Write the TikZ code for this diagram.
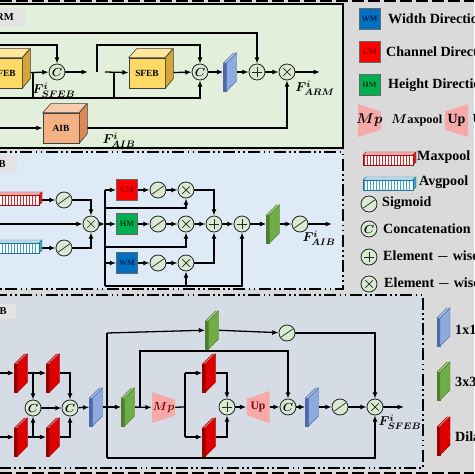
\documentclass[tikz,border=0pt]{standalone}
\usepackage{amsmath}
\usepackage{bm}
\usepackage{fontspec}
\setmainfont{Liberation Serif}
\usetikzlibrary{arrows.meta}

\definecolor{pagegray}{HTML}{DADADA}
\definecolor{armbg}{HTML}{E2EFDA}
\definecolor{aibbg}{HTML}{DEEBF7}
\definecolor{sfebbg}{HTML}{D6DCE5}
\definecolor{tabgray}{HTML}{E3E3E3}
\definecolor{opfill}{HTML}{D9EAD3}
\definecolor{wmblue}{HTML}{0070C0}
\definecolor{cmred}{HTML}{FF0000}
\definecolor{hmgreen}{HTML}{00B050}
\definecolor{wmtext}{HTML}{002060}
\definecolor{cmtext}{HTML}{8B0000}
\definecolor{hmtext}{HTML}{0B3D1B}
\definecolor{platebl}{HTML}{8FAADC}
\definecolor{platebld}{HTML}{4A6AA8}
\definecolor{plategr}{HTML}{70AD47}
\definecolor{plategrd}{HTML}{4E7F2E}
\definecolor{platerd}{HTML}{E00000}
\definecolor{platerdd}{HTML}{9A0000}
\definecolor{sfebfront}{HTML}{FFD966}
\definecolor{sfebtop}{HTML}{FFE699}
\definecolor{sfebside}{HTML}{D4A537}
\definecolor{aibfront}{HTML}{F4B183}
\definecolor{aibtop}{HTML}{F8CBAD}
\definecolor{aibside}{HTML}{D98A58}
\definecolor{trapfill}{HTML}{F6A9A9}
\definecolor{darkred}{HTML}{7B0C0C}
\definecolor{stripered}{HTML}{E02020}
\definecolor{stripeblue}{HTML}{3BA3D0}

\pgfdeclarelayer{back}
\pgfdeclarelayer{wires}
\pgfsetlayers{back,wires,main}

\newcommand{\plate}[4]{%
  \node at (#2) [inner sep=0pt,minimum width=3.9mm,minimum height=11.4mm] (#1) {};
  \begin{scope}[shift={(#2)},line width=0.4pt]
    \filldraw[draw=#4,fill=#4] (-6.5,-9) -- (-3.5,-9) -- (-3.5,19) -- (-6.5,19) -- cycle;
    \filldraw[draw=#4,fill=#3] (-3.5,-9) -- (6.5,-19) -- (6.5,9) -- (-3.5,19) -- cycle;
    \filldraw[draw=#4,fill=#3!60!white] (-6.5,-9) -- (3.5,-19) -- (6.5,-19) -- (-3.5,-9) -- cycle;
  \end{scope}}
\newcommand{\cube}[6]{%
  \node at (#2) [draw=black!75,fill=#3,line width=0.5pt,minimum width=10.8mm,minimum height=9mm,inner sep=0pt,font=\bfseries\fontsize{8}{9}\selectfont] (#1) {#6};
  \filldraw[draw=black!75,fill=#4,line width=0.5pt] (#1.north west) -- ++(8,-9) -- ++(36,0) -- (#1.north east) -- cycle;
  \filldraw[draw=black!75,fill=#5,line width=0.5pt] (#1.north east) -- ++(8,-9) -- ++(0,30) -- (#1.south east) -- cycle;}
\newcommand{\poolbar}[4]{%
  \node at (#2) [inner sep=0pt,minimum width=15mm,minimum height=3mm] (#1) {};
  \begin{scope}[shift={(#2)}]
    \fill[white] (-25,-5) rectangle (25,5);
    \foreach \s in {-23.5,-20.5,...,23.5} \draw[#3,line width=0.9pt] (\s,-5) -- (\s,5);
    \filldraw[draw=#3!70!black,fill=#4,line width=0.4pt] (-25,-5) -- (-22,-8) -- (28,-8) -- (25,-5) -- cycle;
    \filldraw[draw=#3!70!black,fill=#3,line width=0.4pt] (25,-5) -- (28,-8) -- (28,2) -- (25,5) -- cycle;
    \draw[#3!70!black,line width=0.4pt] (-25,-5) rectangle (25,5);
  \end{scope}}
\newcommand{\trap}[6]{%
  \begin{scope}[shift={(#2)}]
    \fill[trapfill] (-11.5,-#3) -- (11.5,-#4) -- (11.5,#4) -- (-11.5,#3) -- cycle;
  \end{scope}
  \node at (#2) [inner sep=0pt,minimum width=6.9mm,minimum height=9.3mm,text=#5] (#1) {#6};}

\begin{document}
\begin{tikzpicture}[x=0.3mm,y=-0.3mm]
\tikzstyle{op}=[circle,draw=black!85,fill=opfill,line width=0.7pt,minimum size=4.8mm,inner sep=0pt]
\tikzstyle{addop}=[op,path picture={\draw[line width=0.6pt] (path picture bounding box.center) +(-1.6mm,0) -- +(1.6mm,0) (path picture bounding box.center) +(0,-1.6mm) -- +(0,1.6mm);}]
\tikzstyle{mulop}=[op,path picture={\draw[line width=0.6pt] (path picture bounding box.center) +(-1.1mm,-1.1mm) -- +(1.1mm,1.1mm) (path picture bounding box.center) +(-1.1mm,1.1mm) -- +(1.1mm,-1.1mm);}]
\tikzstyle{sigop}=[op,path picture={\draw[line width=0.6pt] (path picture bounding box.center) +(-1.7mm,-1.2mm) -- +(1.7mm,1.2mm);}]
\tikzstyle{catop}=[op,font=\fontsize{10}{11}\selectfont]
\tikzstyle{dirbox}=[draw=black!60,line width=0.4pt,minimum size=6.4mm,inner sep=0pt,font=\bfseries\fontsize{7}{8}\selectfont]
\tikzstyle{leg}=[anchor=west,inner sep=0pt,font=\bfseries\fontsize{12}{14}\selectfont]
\tikzstyle{tab}=[anchor=east,inner sep=0pt,font=\bfseries\fontsize{9}{10}\selectfont]
\tikzstyle{flabel}=[inner sep=0pt,font=\fontsize{11}{13}\selectfont]
\tikzstyle{arr}=[-{Latex[length=1.9mm,width=1.5mm]},line width=1.1pt]
\tikzstyle{wire}=[line width=1.1pt]
\tikzstyle{dashdot}=[line width=1.2pt,dash pattern=on 3.6mm off 1mm on 0.5mm off 1mm on 0.5mm off 1mm]

\useasboundingbox (0,0) rectangle (474,474);

\begin{pgfonlayer}{back}
\fill[pagegray] (0,0) rectangle (474,474);
\fill[armbg] (-5,4) rectangle (343,148);
\draw[line width=1pt] (-5,4) rectangle (343,148);
\fill[aibbg] (-5,151) rectangle (343,289);
\draw[dashdot] (-5,152) -- (343,152) -- (343,289) -- (-5,289);
\fill[sfebbg] (-5,295) rectangle (423,468);
\draw[dashdot] (-5,295) -- (423,295) -- (423,468) -- (-5,468);
\draw[line width=2.2pt,dash pattern=on 3.6mm off 1.2mm] (0,1) -- (474,1);
\draw[line width=2.2pt,dash pattern=on 3.6mm off 1.2mm] (0,473) -- (474,473);
\fill[tabgray] (-5,8) rectangle (25,26);
\fill[tabgray] (-5,155) rectangle (17,173);
\fill[tabgray] (-5,304) rectangle (16,319);
\node at (14,17) [tab] (armtab) {ARM};
\node at (6,164) [tab] (aibtab) {AIB};
\node at (7,311.5) [tab] (sfebtab) {SFEB};
\end{pgfonlayer}

% ARM
\cube{sfebA}{4,73}{sfebfront}{sfebtop}{sfebside}{SFEB}
\cube{sfebB}{147,73}{sfebfront}{sfebtop}{sfebside}{SFEB}
\cube{aib}{61,128}{aibfront}{aibtop}{aibside}{AIB}

\node at (57,72) [catop] (c1) {$\bm{C}$};
\node at (200,72) [catop] (c2) {$\bm{C}$};
\plate{pa}{230,72}{platebl}{platebld}
\node at (257,72) [addop] (plusA) {};
\node at (287,72) [mulop] (mulA) {};

\coordinate (armtop) at (-5,33);
\coordinate (c1in) at (-5,45);
\coordinate (busin) at (-5,98);
\coordinate (ja) at (33,72);
\coordinate (c1out) at (88,72);
\coordinate (jc) at (97,72);
\coordinate (jd) at (97,45);
\coordinate (je) at (105,72);
\coordinate (jb) at (114,72);
\coordinate (aibin) at (-5,128);
\coordinate (armout) at (320,72);

\node at (54,90) [flabel] (lsfeb) {$\boldsymbol{F^{i}_{SFEB}}$};
\node at (315,88) [flabel] (larm) {$\boldsymbol{F^{i}_{ARM}}$};
\node at (119,140) [flabel] (laib) {$\boldsymbol{F^{i}_{AIB}}$};

% AIB
\poolbar{maxbar}{14,200}{stripered}{stripered!35!white}
\poolbar{avgbar}{14,248}{stripeblue}{stripeblue!35!white}
\node at (64,200) [sigop] (s1) {};
\node at (64,248) [sigop] (s2) {};
\node at (91,224) [mulop] (x0) {};

\node at (127,190) [dirbox,fill=cmred,text=cmtext] (cm) {CM};
\node at (127,224) [dirbox,fill=hmgreen,text=hmtext] (hm) {HM};
\node at (127,263) [dirbox,fill=wmblue,text=wmtext] (wm) {WM};
\node at (158,190) [sigop] (sc) {};
\node at (158,224) [sigop] (sh) {};
\node at (158,263) [sigop] (sw) {};
\node at (186,190) [mulop] (xc) {};
\node at (186,224) [mulop] (xh) {};
\node at (186,263) [mulop] (xw) {};
\node at (214,224) [addop] (p1) {};
\node at (242,224) [addop] (p2) {};
\plate{ga}{273,224}{plategr}{plategrd}
\node at (300,224) [sigop] (so) {};
\node at (319,238) [flabel] (laib2) {$\boldsymbol{F^{i}_{AIB}}$};

\coordinate (aibin2) at (-5,224);
\coordinate (tc) at (105,190);
\coordinate (th) at (105,224);
\coordinate (tw) at (105,263);
\coordinate (tf1) at (105,208);
\coordinate (tf2) at (105,247);
\coordinate (tb) at (105,286);
\coordinate (aibout) at (332,224);

% SFEB
\plate{r1}{21,373}{platerd}{platerdd}
\plate{r2}{53,373}{platerd}{platerdd}
\plate{r3}{21,437}{platerd}{platerdd}
\plate{r4}{53,437}{platerd}{platerdd}
\node at (33,408) [catop] (cc1) {$\bm{C}$};
\node at (70,408) [catop] (cc2) {$\bm{C}$};
\plate{b1}{96,407}{platebl}{platebld}
\plate{g1}{128,407}{plategr}{plategrd}
\plate{g2}{212,330}{plategr}{plategrd}
\trap{mp}{163.5,407.5}{15.5}{8}{darkred}{\fontsize{10}{12}\selectfont$\bm{Mp}$}
\plate{r5}{209,373}{platerd}{platerdd}
\plate{r6}{209,437}{platerd}{platerdd}
\node at (227,407) [addop] (ps) {};
\trap{up}{258,407}{8}{16}{darkred}{\bfseries\fontsize{10}{12}\selectfont Up}
\node at (288,407) [catop] (cc3) {$\bm{C}$};
\plate{b2}{312,407}{platebl}{platebld}
\node at (340,407) [sigop] (ss) {};
\node at (287,333) [sigop] (st) {};
\node at (375,407) [mulop] (xs) {};
\node at (400,422) [flabel] (lsfeb2) {$\boldsymbol{F^{i}_{SFEB}}$};

\coordinate (rin1) at (-5,373);
\coordinate (rin2) at (-5,437);
\coordinate (k1) at (33,373);
\coordinate (k2) at (33,437);
\coordinate (j1) at (107,407);
\coordinate (j1t) at (107,333);
\coordinate (j1b) at (107,458);
\coordinate (j2) at (140,407);
\coordinate (j2t) at (140,351);
\coordinate (j3) at (185,407);
\coordinate (j3t) at (185,373);
\coordinate (j3b) at (185,437);
\coordinate (sfebout) at (404,407);

\begin{pgfonlayer}{wires}
\draw[arr] (armtop) -| (plusA);
\draw[arr] (c1in) -| (c1);
\draw[arr] (sfebA) -- (c1);
\draw[wire] (ja) -- (ja |- busin);
\draw[arr] (c1) -- (c1out);
\draw[arr] (jc) -- (jd) -| (c2);
\draw[arr] (je) -- (sfebB);
\draw[wire] (jb) -- (jb |- busin);
\draw[arr] (busin) -| (c2);
\draw[arr] (sfebB) -- (c2);
\draw[arr] (c2) -- (pa);
\draw[arr] (pa) -- (plusA);
\draw[arr] (plusA) -- (mulA);
\draw[arr] (mulA) -- (armout);
\draw[arr] (aibin) -- (aib);
\draw[arr] (aib) -| (mulA);

\draw[arr] (maxbar) -- (s1);
\draw[arr] (avgbar) -- (s2);
\draw[arr] (s1) -| (x0);
\draw[arr] (s2) -| (x0);
\draw[arr] (aibin2) -- (x0);
\draw[arr] (x0) -- (th);
\draw[wire] (tc) -- (tb);
\draw[arr] (tc) -- (cm);
\draw[arr] (th) -- (hm);
\draw[arr] (tw) -- (wm);
\draw[arr] (cm) -- (sc);
\draw[arr] (hm) -- (sh);
\draw[arr] (wm) -- (sw);
\draw[arr] (sc) -- (xc);
\draw[arr] (sh) -- (xh);
\draw[arr] (sw) -- (xw);
\draw[arr] (tf1) -| (xc);
\draw[arr] (tf2) -| (xh);
\draw[arr] (tb) -| (xw);
\draw[arr] (tb) -| (p2);
\draw[arr] (xc) -| (p1);
\draw[arr] (xw) -| (p1);
\draw[arr] (xh) -- (p1);
\draw[arr] (p1) -- (p2);
\draw[arr] (p2) -- (ga);
\draw[arr] (ga) -- (so);
\draw[arr] (so) -- (aibout);

\draw[arr] (rin1) -- (r1);
\draw[arr] (rin2) -- (r3);
\draw[arr] (r1) -- (r2);
\draw[arr] (r3) -- (r4);
\draw[arr] (k1) -- (cc1);
\draw[arr] (k2) -- (cc1);
\draw[arr] (r2) -| (cc2);
\draw[arr] (r4) -| (cc2);
\draw[arr] (cc1) -- (cc2);
\draw[arr] (cc2) -- (b1);
\draw[arr] (b1) -- (g1);
\draw[wire] (j1t) -- (j1b);
\draw[arr] (j1t) -- (g2);
\draw[arr] (g2) -- (st);
\draw[arr] (st) -| (xs);
\draw[arr] (j1b) -| (xs);
\draw[arr] (g1) -- (mp);
\draw[arr] (j2) -- (j2t) -| (cc3);
\draw[wire] (mp) -- (j3);
\draw[wire] (j3t) -- (j3b);
\draw[arr] (j3t) -- (r5);
\draw[arr] (j3b) -- (r6);
\draw[arr] (r5) -| (ps);
\draw[arr] (r6) -| (ps);
\draw[arr] (ps) -- (up);
\draw[arr] (up) -- (cc3);
\draw[arr] (cc3) -- (b2);
\draw[arr] (b2) -- (ss);
\draw[arr] (ss) -- (xs);
\draw[arr] (xs) -- (sfebout);
\end{pgfonlayer}

% legend
\node at (369.5,19) [dirbox,fill=wmblue,text=wmtext] (lgwm) {WM};
\node at (369.5,52) [dirbox,fill=cmred,text=cmtext] (lgcm) {CM};
\node at (369.5,85) [dirbox,fill=hmgreen,text=hmtext] (lghm) {HM};
\node at (388,19) [leg] (twm) {Width Direction Module};
\node at (386,52) [leg] (tcm) {Channel Direction Module};
\node at (388,85) [leg] (thm) {Height Direction Module};
\trap{lgmp}{369.5,120.5}{16.5}{9}{black}{\fontsize{12}{14}\selectfont$\bm{Mp}$}
\node at (391,120) [leg,font=\bfseries\fontsize{10.5}{12}\selectfont] (tmp) {$\bm{M}$axpool};
\trap{lgup}{456.5,120.5}{9}{16.5}{black}{\bfseries\fontsize{12}{14}\selectfont Up}
\node at (472.5,120) [leg] (tup) {Upsample};

\poolbar{lgmax}{388,160}{stripered}{stripered!35!white}
\poolbar{lgavg}{388,185}{stripeblue}{stripeblue!35!white}
\node at (417,157) [leg] (tmax) {Maxpool};
\node at (419,182) [leg] (tavg) {Avgpool};
\node at (369,204) [sigop] (lgsig) {};
\node at (369,229) [catop] (lgcat) {$\bm{C}$};
\node at (369,257) [addop] (lgadd) {};
\node at (369,284) [mulop] (lgmul) {};
\node at (382,203) [leg] (tsig) {Sigmoid};
\node at (383,229) [leg] (tcat) {Concatenation};
\node at (383,257) [leg] (tadd) {Element $\bm{-}$ wise addition};
\node at (384,284) [leg] (tmul) {Element $\bm{-}$ wise multiplication};

\plate{lgb}{443.5,327}{platebl}{platebld}
\plate{lgg}{443.5,381}{plategr}{plategrd}
\plate{lgr}{443.5,436}{platerd}{platerdd}
\node at (455,330) [leg] (t11) {1x1 Conv};
\node at (455,382) [leg] (t33) {3x3 Conv};
\node at (455,437) [leg] (tdil) {Dilated Conv};

\end{tikzpicture}
\end{document}
